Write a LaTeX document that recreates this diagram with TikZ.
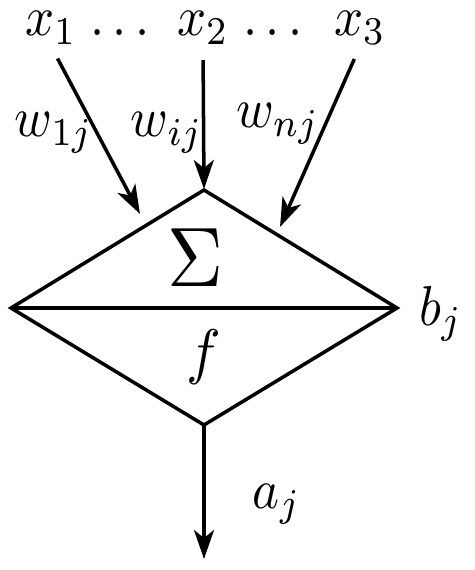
\documentclass[tikz,border=0pt]{standalone}
\usepackage{amsmath}
\usetikzlibrary{arrows.meta,positioning}

\newcommand{\symb}[1]{\scalebox{2.9}[3.2]{$#1$}}

\begin{document}
\begin{tikzpicture}[x=0.02cm,y=-0.02cm,line width=2pt,
    >={Stealth[length=0.58cm,width=0.4cm,inset=0.16cm]},
    lbl/.style={inner sep=0pt,anchor=base},
    op/.style={inner sep=0pt},
    input/.style={->,shorten <=0.28cm}]
  \useasboundingbox (0,0) rectangle (474,570);

  % inputs
  \node[lbl] (x1)    at (51,36)  {\symb{x_1}};
  \node[lbl] (dots1) at (124,36) {\symb{\dots}};
  \node[lbl] (x2)    at (203,36) {\symb{x_2}};
  \node[lbl] (dots2) at (277,36) {\symb{\dots}};
  \node[lbl] (x3)    at (360,36) {\symb{x_3}};

  % the neuron
  \coordinate (top)    at (204,190);
  \coordinate (left)   at (11,308);
  \coordinate (right)  at (397,308);
  \coordinate (bottom) at (204,425);
  \draw[line join=miter] (top) -- (right) -- (bottom) -- (left) -- cycle;
  \draw (left) -- (right);
  \node[op] (sum) at (195,258) {\scalebox{4.4}[4.8]{$\Sigma$}};
  \node[op] (act) at (204,357) {\scalebox{3.3}[3.5]{$f$}};

  % weights
  \coordinate (t1) at (140,214);
  \coordinate (t2) at (204,189);
  \coordinate (t3) at (280,227);
  \draw[input] (x1.south) -- (t1);
  \draw[input] (x2.south) -- (t2);
  \draw[input] (x3.south) -- (t3);
  \node[lbl] (w1j) at (54,137)  {\symb{w_{1j}}};
  \node[lbl] (wij) at (167,137) {\symb{w_{ij}}};
  \node[lbl] (wnj) at (278,128) {\symb{w_{nj}}};

  % bias and output
  \node[lbl] (bj) at (441,325) {\symb{b_j}};
  \coordinate (out) at (204,559);
  \draw[->] (bottom) -- (out);
  \node[lbl] (aj) at (277,508) {\symb{a_j}};
\end{tikzpicture}
\end{document}
